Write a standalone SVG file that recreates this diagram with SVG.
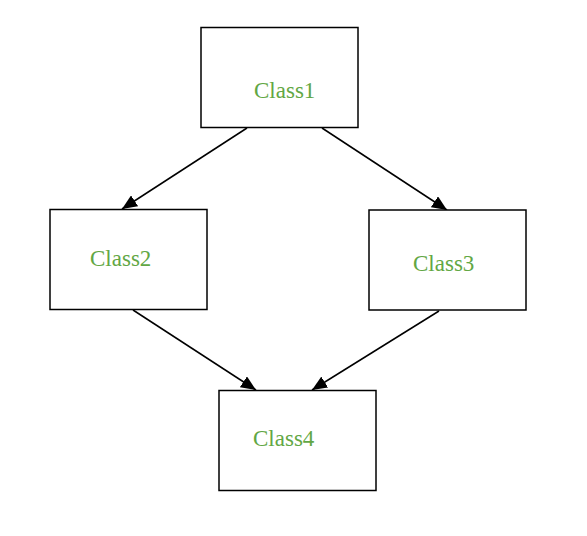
<svg xmlns="http://www.w3.org/2000/svg" width="587" height="536" viewBox="0 0 587 536">
<style>
.box{fill:#fff;stroke:#000;stroke-width:1.5}
.lbl{font-family:"Liberation Serif","Times New Roman",serif;font-size:23px;fill:#62a744}
.edge{stroke:#000;stroke-width:1.5;fill:none;marker-end:url(#arr)}
</style>
<defs>
<marker id="arr" viewBox="0 0 15 13" refX="15" refY="6.5" markerWidth="15" markerHeight="13" markerUnits="userSpaceOnUse" orient="auto">
<path d="M0,0 L15,6.5 L0,13 Z" fill="#000"/>
</marker>
</defs>
<rect width="587" height="536" fill="#fff"/>
<g id="connectors">
<line class="edge" x1="247" y1="128" x2="122" y2="209"/>
<line class="edge" x1="322" y1="128" x2="447" y2="210"/>
<line class="edge" x1="133" y1="310" x2="256" y2="390"/>
<line class="edge" x1="439" y1="311" x2="312" y2="390"/>
</g>
<g id="class1">
<rect class="box" x="201" y="27.5" width="157" height="100"/>
<text class="lbl" x="254" y="98">Class1</text>
</g>
<g id="class2">
<rect class="box" x="50" y="209.5" width="157" height="100"/>
<text class="lbl" x="90" y="266">Class2</text>
</g>
<g id="class3">
<rect class="box" x="369" y="210" width="157" height="100"/>
<text class="lbl" x="413" y="271">Class3</text>
</g>
<g id="class4">
<rect class="box" x="219" y="390.5" width="157" height="100"/>
<text class="lbl" x="253" y="446">Class4</text>
</g>
</svg>
